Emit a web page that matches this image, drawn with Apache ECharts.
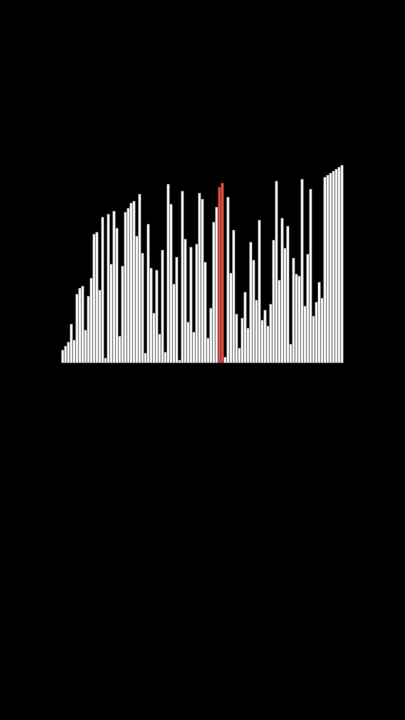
<!DOCTYPE html>
<html>
<head>
<meta charset="utf-8">
<script src="https://cdn.jsdelivr.net/npm/echarts@6/dist/echarts.min.js"></script>
<style>
html,body{margin:0;padding:0;background:#000;}
#main{width:405px;height:720px;}
</style>
</head>
<body>
<div id="main"></div>
<script>
var values = [13,17,21,39,23,69,75,77,33,67,85,129,131,73,146,5,149,99,152,135,27,97,151,155,160,162,127,169,110,10,139,95,50,93,29,113,11,179,159,79,106,3,172,124,41,116,31,119,170,164,101,25,55,141,156,176,180,6,166,90,133,49,15,45,71,35,121,103,63,143,43,53,37,59,123,182,83,145,115,137,19,105,89,87,184,57,109,174,47,61,81,65,186,188,190,192,194,196,198];
var highlighted = [55, 56];
var categories = values.map(function (v, i) { return String(i); });

var chart = echarts.init(document.getElementById('main'));
chart.setOption({
  backgroundColor: '#000',
  animation: false,
  grid: { left: 61.3, right: 61.6, top: 163, bottom: 357 },
  xAxis: { type: 'category', data: categories, show: false },
  yAxis: { type: 'value', min: 0, max: 200, show: false },
  series: [{
    type: 'bar',
    barCategoryGap: '0%',
    data: values.map(function (v, i) {
      var hl = highlighted.indexOf(i) >= 0;
      return {
        value: v,
        itemStyle: hl ? { color: '#e0534a', borderColor: '#c9403a', borderWidth: 0.5 }
                      : { color: '#ffffff', borderColor: '#a8a8a8', borderWidth: 0.5 }
      };
    })
  }]
});
</script>
</body>
</html>
